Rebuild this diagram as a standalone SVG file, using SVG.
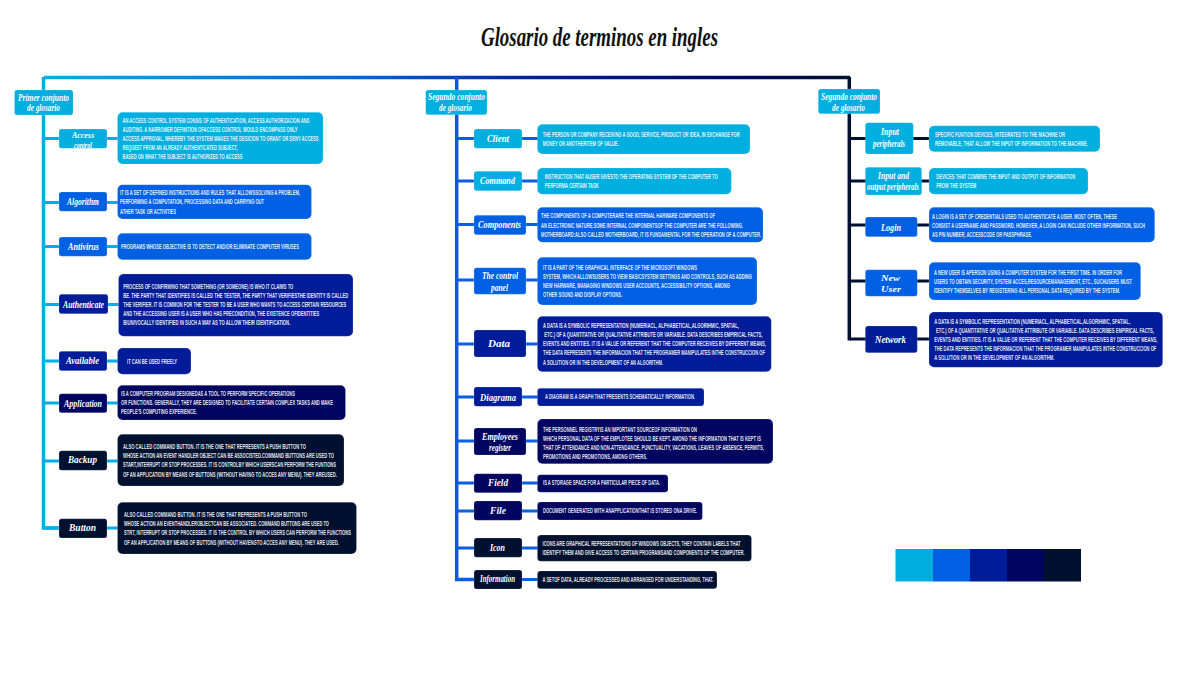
<svg xmlns="http://www.w3.org/2000/svg" width="1200" height="699" viewBox="0 0 1200 699">
<style>
.c1{fill:#00aee0}.c2{fill:#0060e4}.c3{fill:#001c98}.c4{fill:#000560}.c5{fill:#00112f}
.n{rx:2.5px;stroke:#fff;stroke-opacity:.25;stroke-width:.7}
.d{rx:5px;stroke:#fff;stroke-opacity:.25;stroke-width:.7}
.b{font:700 7.6px "Liberation Sans",Arial,sans-serif;fill:#fff;fill-opacity:.9;dominant-baseline:central}
.s{font:italic 700 11px "Liberation Serif","Times New Roman",serif;fill:#fff;dominant-baseline:central}
.m{font-size:9.5px}
.x{font-size:8.5px}
.t{font:italic 700 27px "Liberation Serif","Times New Roman",serif;fill:#111;dominant-baseline:central}
.k1,.k2,.k3{fill:none;stroke-width:3}
.k1{stroke:#00aee6}.k2{stroke:#0b5ee0}.k3{stroke:#00112f}
</style>
<defs>
<linearGradient id="top" gradientUnits="userSpaceOnUse" x1="44" y1="0" x2="850" y2="0">
<stop offset="0" stop-color="#00aee6"/><stop offset=".4" stop-color="#0060e0"/><stop offset=".62" stop-color="#001c98"/><stop offset=".85" stop-color="#000560"/><stop offset="1" stop-color="#00112f"/>
</linearGradient>
</defs>
<rect width="1200" height="699" fill="#fff"/>
<text class="t" x="481" y="37" textLength="237" lengthAdjust="spacingAndGlyphs">Glosario de terminos en ingles</text>

<g id="connectors">
<path d="M44 77.5H850" fill="none" stroke="url(#top)" stroke-width="3.5"/>
<path class="k1" style="stroke-width:3.5" d="M43.5 77V528H59"/>
<path class="k1" d="M44 138.5H118M44 202.5H118M44 246.5H118M44 304.5H119M44 361H118M44 403H118M44 461H118M44 528H118"/>
<path class="k2" style="stroke-width:3.5;stroke:#1257d4" d="M456.7 77V579.5H474"/>
<path class="k2" d="M457 138.5H538M457 181H538M457 224.5H538M457 280H538M457 344H538M457 397H538M457 441H538M457 483H538M457 511H538M457 548H538M457 579.5H538"/>
<path class="k3" style="stroke-width:3.5" d="M849.3 77V340.5"/>
<path class="k3" d="M850 138.5H930M850 181H930M850 225H930M850 281H930M850 339H930"/>
</g>

<g id="h1"><rect class="n c1" x="14.5" y="90" width="58.5" height="25"/><text class="s m" x="18" y="97.7" textLength="51" lengthAdjust="spacingAndGlyphs">Primer conjunto</text><text class="s m" x="27" y="108.3" textLength="33" lengthAdjust="spacingAndGlyphs">de glosario</text></g>
<g id="h2"><rect class="n c1" x="425.7" y="90" width="61.3" height="24.7"/><text class="s m" x="428" y="97" textLength="57" lengthAdjust="spacingAndGlyphs">Segundo conjunto</text><text class="s m" x="439" y="108" textLength="33" lengthAdjust="spacingAndGlyphs">de glosario</text></g>
<g id="h3"><rect class="n c1" x="818.3" y="89" width="61.7" height="24.7"/><text class="s m" x="821" y="96.5" textLength="56" lengthAdjust="spacingAndGlyphs">Segundo conjunto</text><text class="s m" x="832" y="107.5" textLength="33" lengthAdjust="spacingAndGlyphs">de glosario</text></g>

<g id="access-control"><rect class="n c1" x="59" y="129" width="48" height="19.3"/><text class="s x" x="72" y="134.5" textLength="22" lengthAdjust="spacingAndGlyphs">Access</text><text class="s x" x="74" y="144.5" textLength="18" lengthAdjust="spacingAndGlyphs">control</text>
<rect class="d c1" x="117.5" y="112.3" width="205.5" height="51.7"/>
<text class="b" x="122.5" y="120" textLength="187" lengthAdjust="spacingAndGlyphs">AN ACCESS CONTROL SYSTEM CONSIS OF AUTHENTICATION, ACCESS AUTHORIZACION AND</text>
<text class="b" x="122.5" y="129.2" textLength="175" lengthAdjust="spacingAndGlyphs">AUDITING. A NARROWER DEFINITION OFACCESS CONTROL WOULD ENCOMPASS ONLY</text>
<text class="b" x="122.5" y="138.5" textLength="196" lengthAdjust="spacingAndGlyphs">ACCESS APPROVAL, WHEREBY THE SYSTEM MAKES THE DESICION TO GRANT OR DENY ACCESS</text>
<text class="b" x="122.5" y="147.6" textLength="115" lengthAdjust="spacingAndGlyphs">REQUEST FROM AN ALREADY AUTHENTICATED SUBJECT,</text>
<text class="b" x="122.5" y="156.7" textLength="120" lengthAdjust="spacingAndGlyphs">BASED ON WHAT THE SUBJECT IS AUTHORIZED TO ACCESS</text></g>

<g id="algorithm"><rect class="n c2" x="59" y="192" width="48" height="19.3"/><text class="s" x="67" y="201" textLength="32" lengthAdjust="spacingAndGlyphs">Algorithm</text>
<rect class="d c2" x="117.5" y="184.7" width="194" height="34.3"/>
<text class="b" x="120" y="192.5" textLength="180" lengthAdjust="spacingAndGlyphs">IT IS A SET OF DEFINED INSTRUCTIONS AND RULES THAT ALLOWSSOLVING A PROBLEM,</text>
<text class="b" x="120" y="201.7" textLength="144" lengthAdjust="spacingAndGlyphs">PERFORMING A COMPUTATION, PROCESSING DATA AND CARRYNG OUT</text>
<text class="b" x="120" y="211" textLength="56" lengthAdjust="spacingAndGlyphs">ATHER TASK OR ACTIVITIES</text></g>

<g id="antivirus"><rect class="n c2" x="59" y="237" width="48" height="19.3"/><text class="s" x="68" y="246" textLength="31" lengthAdjust="spacingAndGlyphs">Antivirus</text>
<rect class="d c2" x="117.5" y="233.3" width="194" height="26.4"/>
<text class="b" x="121" y="246.5" textLength="178" lengthAdjust="spacingAndGlyphs">PROGRAMS WHOSE OBJECTIVE IS TO DETECT AND/OR ELIMINATE COMPUTER VIRUSES</text></g>

<g id="authenticate"><rect class="n c3" x="59" y="294.3" width="49" height="19.4"/><text class="s" x="63" y="304" textLength="41" lengthAdjust="spacingAndGlyphs">Authenticate</text>
<rect class="d c3" x="118.5" y="274" width="234.5" height="62.3"/>
<text class="b" x="123.3" y="286" textLength="170" lengthAdjust="spacingAndGlyphs">PROCESS OF CONFIRMING THAT SOMETHING (OR SOMEONE) IS WHO IT CLAIMS TO</text>
<text class="b" x="123.3" y="295.2" textLength="225" lengthAdjust="spacingAndGlyphs">BE. THE PARTY THAT IDENTIFIES IS CALLED THE TESTER, THE PARTY THAT VERIFIESTHE IDENTITY IS CALLED</text>
<text class="b" x="123.3" y="304.4" textLength="223" lengthAdjust="spacingAndGlyphs">THE VERIFIER. IT IS COMMON FOR THE TESTER TO BE A USER WHO WANTS TO ACCESS CERTAIN RESOURCES</text>
<text class="b" x="123.3" y="313.5" textLength="196" lengthAdjust="spacingAndGlyphs">AND THE ACCESSING USER IS A USER WHO HAS PRECONDITION, THE EXISTENCE OFIDENTITIES</text>
<text class="b" x="123.3" y="322.7" textLength="167" lengthAdjust="spacingAndGlyphs">BIUNIVOCALLY IDENTIFIED IN SUCH A WAY AS TO ALLOW THEIR IDENTIFICATION.</text></g>

<g id="available"><rect class="n c3" x="59" y="351.3" width="48" height="19.4"/><text class="s" x="66" y="360" textLength="33" lengthAdjust="spacingAndGlyphs">Available</text>
<rect class="d c3" x="117.5" y="348" width="73.5" height="26.3"/>
<text class="b" x="127" y="361" textLength="50" lengthAdjust="spacingAndGlyphs">IT CAN BE USED FREELY</text></g>

<g id="application"><rect class="n c4" x="59" y="393.7" width="48" height="19"/><text class="s" x="64" y="403" textLength="38" lengthAdjust="spacingAndGlyphs">Application</text>
<rect class="d c4" x="117.5" y="385.3" width="228" height="34.7"/>
<text class="b" x="121" y="393.3" textLength="174" lengthAdjust="spacingAndGlyphs">IS A COMPUTER PROGRAM DESIGNEDAS A TOOL TO PERFORM SPECIFIC OPERATIONS</text>
<text class="b" x="121" y="402.7" textLength="212" lengthAdjust="spacingAndGlyphs">OR FUNCTIONS. GENERALLY, THEY ARE DESIGNED TO FACILITATE CERTAIN COMPLEX TASKS AND MAKE</text>
<text class="b" x="121" y="411.8" textLength="76" lengthAdjust="spacingAndGlyphs">PEOPLE'S COMPUTING EXPERIENCE.</text></g>

<g id="backup"><rect class="n c5" x="59" y="450.7" width="48" height="19.6"/><text class="s" x="68" y="459" textLength="29" lengthAdjust="spacingAndGlyphs">Backup</text>
<rect class="d c5" x="117.5" y="434.3" width="226.5" height="51.7"/>
<text class="b" x="123" y="446.3" textLength="183" lengthAdjust="spacingAndGlyphs">ALSO CALLED COMMAND BUTTON. IT IS THE ONE THAT REPRESENTS A PUSH BUTTON TO</text>
<text class="b" x="123" y="455.5" textLength="211" lengthAdjust="spacingAndGlyphs">WHOSE ACTION AN EVENT HANDLER OBJECT CAN BE ASSOCISTED.COMMAND BUTTONS ARE USED TO</text>
<text class="b" x="123" y="464.7" textLength="213" lengthAdjust="spacingAndGlyphs">START,INTERRUPT OR STOP PROCESSES. IT IS CONTROLBY WHICH USERSCAN PERFORM THE FUNTIONS</text>
<text class="b" x="123" y="474" textLength="214" lengthAdjust="spacingAndGlyphs">OF AN APPLICATION BY MEANS OF BUTTONS (WITHOUT HAVING TO ACCES ANY MENU). THEY AREUSED.</text></g>

<g id="button"><rect class="n c5" x="59" y="518.7" width="48" height="19.3"/><text class="s" x="69" y="527" textLength="27" lengthAdjust="spacingAndGlyphs">Button</text>
<rect class="d c5" x="117.5" y="502.3" width="239" height="51.7"/>
<text class="b" x="124" y="514.3" textLength="183" lengthAdjust="spacingAndGlyphs">ALSO CALLED COMMAND BUTTON. IT IS THE ONE THAT REPRESENTS A PUSH BUTTON TO</text>
<text class="b" x="124" y="523.5" textLength="205" lengthAdjust="spacingAndGlyphs">WHOSE ACTION AN EVENTHANDLEROBJECTCAN BE ASSOCIATED. COMMAND BUTTONS ARE USED TO</text>
<text class="b" x="124" y="532.7" textLength="227" lengthAdjust="spacingAndGlyphs">STRT, INTERRUPT OR STOP PROCESSES. IT IS THE CONTROL BY WHICH USERS CAN PERFORM THE FUNCTIONS</text>
<text class="b" x="124" y="542" textLength="215" lengthAdjust="spacingAndGlyphs">OF AN APPLICATION BY MEANS OF BUTTONS (WITHOUT HAVENGTO ACCES ANY MENU). THEY ARE USED.</text></g>

<g id="client"><rect class="n c1" x="474" y="129" width="48" height="19.3"/><text class="s" x="487" y="138" textLength="22" lengthAdjust="spacingAndGlyphs">Client</text>
<rect class="d c1" x="537.4" y="124.3" width="212.6" height="29.7"/>
<text class="b" x="542.7" y="134" textLength="197" lengthAdjust="spacingAndGlyphs">THE PERSON OR COMPANY RECEIVING A GOOD, SERVICE, PRODUCT OR IDEA, IN EXCHANGE FOR</text>
<text class="b" x="542.7" y="143.3" textLength="76" lengthAdjust="spacingAndGlyphs">MONEY OR ANOTHERITEM OF VALUE.</text></g>

<g id="command"><rect class="n c1" x="474" y="171.3" width="48" height="19.4"/><text class="s" x="480" y="180" textLength="35" lengthAdjust="spacingAndGlyphs">Command</text>
<rect class="d c1" x="537.4" y="168" width="194" height="26.3"/>
<text class="b" x="544.7" y="176.3" textLength="173" lengthAdjust="spacingAndGlyphs">INSTRUCTION THAT AUSER GIVESTO THE OPERATING SYSTEM OF THE COMPUTER TO</text>
<text class="b" x="544.7" y="185.5" textLength="54" lengthAdjust="spacingAndGlyphs">PERFORMA CERTAIN TASK</text></g>

<g id="components"><rect class="n c2" x="474" y="215.3" width="52" height="19.4"/><text class="s" x="478" y="224" textLength="43" lengthAdjust="spacingAndGlyphs">Components</text>
<rect class="d c2" x="537.4" y="207.3" width="225.6" height="35"/>
<text class="b" x="541" y="215.7" textLength="174" lengthAdjust="spacingAndGlyphs">THE COMPONENTS OF A COMPUTERARE THE INTERNAL HARWARE COMPONENTS  OF</text>
<text class="b" x="541" y="225" textLength="202" lengthAdjust="spacingAndGlyphs">AN ELECTRONIC NATURE.SOME INTERNAL COMPONENTSOF THE COMPUTER ARE THE FOLLOWING.</text>
<text class="b" x="541" y="234" textLength="220" lengthAdjust="spacingAndGlyphs">MOTHERBOARD:ALSO CALLED MOTHERBOARD, IT IS FUNDAMENTAL FOR THE OPERATION OF A COMPUTER.</text></g>

<g id="control-panel"><rect class="n c2" x="474" y="267.7" width="52" height="26.6"/><text class="s m" x="482" y="275.5" textLength="36" lengthAdjust="spacingAndGlyphs">The control</text><text class="s m" x="491" y="287.5" textLength="17" lengthAdjust="spacingAndGlyphs">panel</text>
<rect class="d c2" x="537.4" y="257.3" width="219.6" height="47.7"/>
<text class="b" x="543" y="267" textLength="154" lengthAdjust="spacingAndGlyphs">IT IS A PART OF THE GRAPHICAL INTERFACE OF THE MICROSOFT WINDOWS</text>
<text class="b" x="543" y="276" textLength="209" lengthAdjust="spacingAndGlyphs">SYSTEM, WHICH ALLOWSUSERS TO VIEW BASICSYSTEM SETTINGS AND CONTROLS, SUCH AS ADDING</text>
<text class="b" x="543" y="285" textLength="187" lengthAdjust="spacingAndGlyphs">NEW HARWARE, MANAGING WINDOWS USER ACCOUNTS, ACCESSIBILITY OPTIONS, AMONG</text>
<text class="b" x="543" y="294.3" textLength="79" lengthAdjust="spacingAndGlyphs">OTHER SOUND AND DISPLAY OPTIONS.</text></g>

<g id="data"><rect class="n c3" x="474" y="330" width="52" height="27"/><text class="s" x="488" y="343" textLength="22" lengthAdjust="spacingAndGlyphs">Data</text>
<rect class="d c3" x="537.4" y="316.3" width="233.9" height="55.4"/>
<text class="b" x="543" y="325.3" textLength="196" lengthAdjust="spacingAndGlyphs">A DATA IS A SYMBOLIC REPRESENTATION (NUMERIACL, ALPHABETICAL,ALGORIHMIC, SPATIAL,</text>
<text class="b" x="544.3" y="334.7" textLength="218" lengthAdjust="spacingAndGlyphs">ETC.) OF A QUANTITATIVE OR QUALITATIVE ATTRIBUTE OR VARIABLE. DATA DESCRIBES EMPIRICAL FACTS,</text>
<text class="b" x="543" y="343.7" textLength="223" lengthAdjust="spacingAndGlyphs">EVENTS AND ENTITIES. IT IS A VALUE OR REFERENT THAT THE COMPUTER RECEIVES BY DIFFERENT MEANS,</text>
<text class="b" x="543" y="352.7" textLength="222" lengthAdjust="spacingAndGlyphs">THE DATA REPRESENTS THE INFORMACION THAT THE PROGRAMER MANIPULATES INTHE CONSTRUCCION OF</text>
<text class="b" x="543" y="362" textLength="120" lengthAdjust="spacingAndGlyphs">A SOLUTION OR IN THE DEVELOPMENT OF AN ALGORITHM.</text></g>

<g id="diagrama"><rect class="n c3" x="474" y="387" width="48" height="19.3"/><text class="s" x="480" y="396.5" textLength="36" lengthAdjust="spacingAndGlyphs">Diagrama</text>
<rect class="d c3" x="537.4" y="388.3" width="166.6" height="17.7" style="rx:3px"/>
<text class="b" x="545" y="396.5" textLength="150" lengthAdjust="spacingAndGlyphs">A DIAGRAM IS A GRAPH THAT PRESENTS SCHEMATICALLY INFORMATION.</text></g>

<g id="employee-register"><rect class="n c4" x="474" y="428" width="52" height="27"/><text class="s m" x="482" y="436.5" textLength="36" lengthAdjust="spacingAndGlyphs">Employees</text><text class="s m" x="489" y="448" textLength="22" lengthAdjust="spacingAndGlyphs">register</text>
<rect class="d c4" x="537.4" y="419" width="235.6" height="44.7"/>
<text class="b" x="543" y="429" textLength="154" lengthAdjust="spacingAndGlyphs">THE PERSONNEL REGISTRYIS AN IMPORTANT SOURCEOF INFORMATION ON</text>
<text class="b" x="543" y="438" textLength="218" lengthAdjust="spacingAndGlyphs">WHICH PERSONAL DATA OF THE EMPLOTEE SHOULD BE KEPT. AMONG THE INFORMATION THAT IS KEPT IS</text>
<text class="b" x="543" y="447" textLength="221" lengthAdjust="spacingAndGlyphs">THAT OF ATTENDANCE AND NON-ATTENDANCE, PUNCTUALITY, VACATIONS, LEAVES OF ABSENCE, PERMITS,</text>
<text class="b" x="543" y="456.3" textLength="104" lengthAdjust="spacingAndGlyphs">PROMOTIONS AND PROMOTIONS, AMONG OTHERS.</text></g>

<g id="field"><rect class="n c4" x="474" y="473.7" width="48" height="19"/><text class="s" x="488" y="482" textLength="20" lengthAdjust="spacingAndGlyphs">Field</text>
<rect class="d c4" x="537.4" y="474.7" width="130.6" height="17.6" style="rx:3px"/>
<text class="b" x="543" y="482.7" textLength="117" lengthAdjust="spacingAndGlyphs">IS A STORAGE SPACE FOR A PARTICULAR PIECE OF DATA.</text></g>

<g id="file"><rect class="n c4" x="474" y="501" width="48" height="19.3"/><text class="s" x="490" y="510" textLength="16" lengthAdjust="spacingAndGlyphs">File</text>
<rect class="d c4" x="537.4" y="502" width="165" height="18" style="rx:3px"/>
<text class="b" x="543" y="510.7" textLength="154" lengthAdjust="spacingAndGlyphs">DOCUMENT GENERATED WITH ANAPPLICATIONTHAT IS STORED ONA DRIVE.</text></g>

<g id="icon"><rect class="n c5" x="474" y="538" width="48" height="19.3"/><text class="s" x="490" y="547" textLength="15" lengthAdjust="spacingAndGlyphs">Icon</text>
<rect class="d c5" x="537.4" y="535" width="214.1" height="26.3" style="rx:3.5px"/>
<text class="b" x="542.5" y="543" textLength="198" lengthAdjust="spacingAndGlyphs">ICONS ARE GRAPHICAL REPRESENTATIONS OF WINDOWS OBJECTS, THEY CONTAIN LABELS THAT</text>
<text class="b" x="542.5" y="552" textLength="202" lengthAdjust="spacingAndGlyphs">IDENTIFY THEM AND GIVE ACCESS TO CERTAIN PROGRAMSAND COMPONENTS OF THE COMPUTER.</text></g>

<g id="information"><rect class="n c5" x="474" y="570" width="48" height="19"/><text class="s" x="480" y="578" textLength="35" lengthAdjust="spacingAndGlyphs">Information</text>
<rect class="d c5" x="537.4" y="571" width="179.6" height="17.7" style="rx:3px"/>
<text class="b" x="542.5" y="579.7" textLength="171" lengthAdjust="spacingAndGlyphs">A SETOF DATA, ALREADY PROCESSED AND ARRANGED FOR UNDERSTANDING, THAT.</text></g>

<g id="input-peripherals"><rect class="n c1" x="865.3" y="122.7" width="48" height="31.3"/><text class="s m" x="881" y="132" textLength="18" lengthAdjust="spacingAndGlyphs">Input</text><text class="s m" x="873" y="144" textLength="32" lengthAdjust="spacingAndGlyphs">peripherals</text>
<rect class="d c1" x="929" y="125.7" width="171" height="26"/>
<g transform="scale(.5 1)">
<text class="b" x="1870" y="134" textLength="260" lengthAdjust="spacingAndGlyphs">SPECIFIC FUNTION DEVICES, INTEGRATED TO THE MACHINE OR</text>
<text class="b" x="1870" y="143.3" textLength="306" lengthAdjust="spacingAndGlyphs">REMOVABLE, THAT ALLOW THE INPUT OF INFORMATION TO THE MACHINE.</text>
</g></g>

<g id="input-output-peripherals"><rect class="n c1" x="865.3" y="167.3" width="56.4" height="27.7"/><text class="s m" x="878" y="175.5" textLength="31" lengthAdjust="spacingAndGlyphs">Input and</text><text class="s m" x="867" y="187" textLength="52" lengthAdjust="spacingAndGlyphs">output peripherals</text>
<rect class="d c1" x="929" y="168" width="159" height="26.3"/>
<g transform="scale(.5 1)">
<text class="b" x="1872.6" y="176.3" textLength="278" lengthAdjust="spacingAndGlyphs">DEVICES THAT COMBINE THE INPUT AND OUTPUT OF INFORMATION</text>
<text class="b" x="1872.6" y="185.5" textLength="80" lengthAdjust="spacingAndGlyphs">FROM THE SYSTEM</text>
</g></g>

<g id="login"><rect class="n c2" x="865.3" y="217" width="52" height="19.7"/><text class="s" x="881" y="226.7" textLength="20" lengthAdjust="spacingAndGlyphs">Login</text>
<rect class="d c2" x="929" y="207.3" width="225.7" height="35"/>
<g transform="scale(.5 1)">
<text class="b" x="1864" y="216.3" textLength="370" lengthAdjust="spacingAndGlyphs">A LOGIN IS A SET OF CREDENTIALS USED TO AUTHENTICATE A USER. MOST OFTEN, THESE</text>
<text class="b" x="1864" y="225.3" textLength="426" lengthAdjust="spacingAndGlyphs">CONSIST A USERNAME AND PASSWORD. HOWEVER, A LOGIN CAN INCLUDE OTHER INFORMATION, SUCH</text>
<text class="b" x="1864" y="234.7" textLength="200" lengthAdjust="spacingAndGlyphs">AS PIN NUMBER, ACCESSCODE OR PASSPHRASE.</text>
</g></g>

<g id="new-user"><rect class="n c2" x="865.3" y="269.7" width="52" height="26.6"/><text class="s x" x="881" y="278" textLength="19" lengthAdjust="spacingAndGlyphs">New</text><text class="s x" x="881" y="288.5" textLength="20" lengthAdjust="spacingAndGlyphs">User</text>
<rect class="d c2" x="929" y="262.3" width="211.7" height="37.7"/>
<g transform="scale(.5 1)">
<text class="b" x="1868" y="272" textLength="376" lengthAdjust="spacingAndGlyphs">A NEW USER IS APERSON USING A COMPUTER SYSTEM FOR THE FIRST TIME. IN ORDER FOR</text>
<text class="b" x="1868" y="281" textLength="396" lengthAdjust="spacingAndGlyphs">USERS TO OBTAIN SECURITY, SYSTEM ACCES,RESOURCEMANAGEMENT, ETC., SUCHUSERS MUST</text>
<text class="b" x="1868" y="290.3" textLength="372" lengthAdjust="spacingAndGlyphs">IDENTIFY THEMSELVES BY REGISTERING ALL PERSONAL DATA REQUIRED BY THE SYSTEM.</text>
</g></g>

<g id="network"><rect class="n c3" x="865.3" y="326" width="52" height="26.7"/><text class="s" x="875" y="339" textLength="31" lengthAdjust="spacingAndGlyphs">Network</text>
<rect class="d c3" x="929" y="312" width="233.7" height="55.3"/>
<g transform="scale(.5 1)">
<text class="b" x="1868.6" y="321" textLength="392" lengthAdjust="spacingAndGlyphs">A DATA IS A SYMBOLIC REPRESENTATION (NUMERIACL, ALPHABETICAL,ALGORIHMIC, SPATIAL,</text>
<text class="b" x="1872" y="330.3" textLength="436" lengthAdjust="spacingAndGlyphs">ETC.) OF A QUANTITATIVE OR QUALITATIVE ATTRIBUTE OR VARIABLE. DATA DESCRIBES EMPIRICAL FACTS,</text>
<text class="b" x="1868.6" y="339.3" textLength="446" lengthAdjust="spacingAndGlyphs">EVENTS AND ENTITIES. IT IS A VALUE OR REFERENT THAT THE COMPUTER RECEIVES BY DIFFERENT MEANS,</text>
<text class="b" x="1868.6" y="348.3" textLength="444" lengthAdjust="spacingAndGlyphs">THE DATA REPRESENTS THE INFORMACION THAT THE PROGRAMER MANIPULATES INTHE CONSTRUCCION OF</text>
<text class="b" x="1868.6" y="357.3" textLength="240" lengthAdjust="spacingAndGlyphs">A SOLUTION OR IN THE DEVELOPMENT OF AN ALGORITHM.</text>
</g></g>

<g id="palette">
<rect class="c1" x="895.5" y="549" width="37.5" height="32.5"/>
<rect class="c2" x="933" y="549" width="37" height="32.5"/>
<rect class="c3" x="970" y="549" width="37" height="32.5"/>
<rect class="c4" x="1007" y="549" width="37" height="32.5"/>
<rect class="c5" x="1044" y="549" width="37" height="32.5"/>
</g>
</svg>
